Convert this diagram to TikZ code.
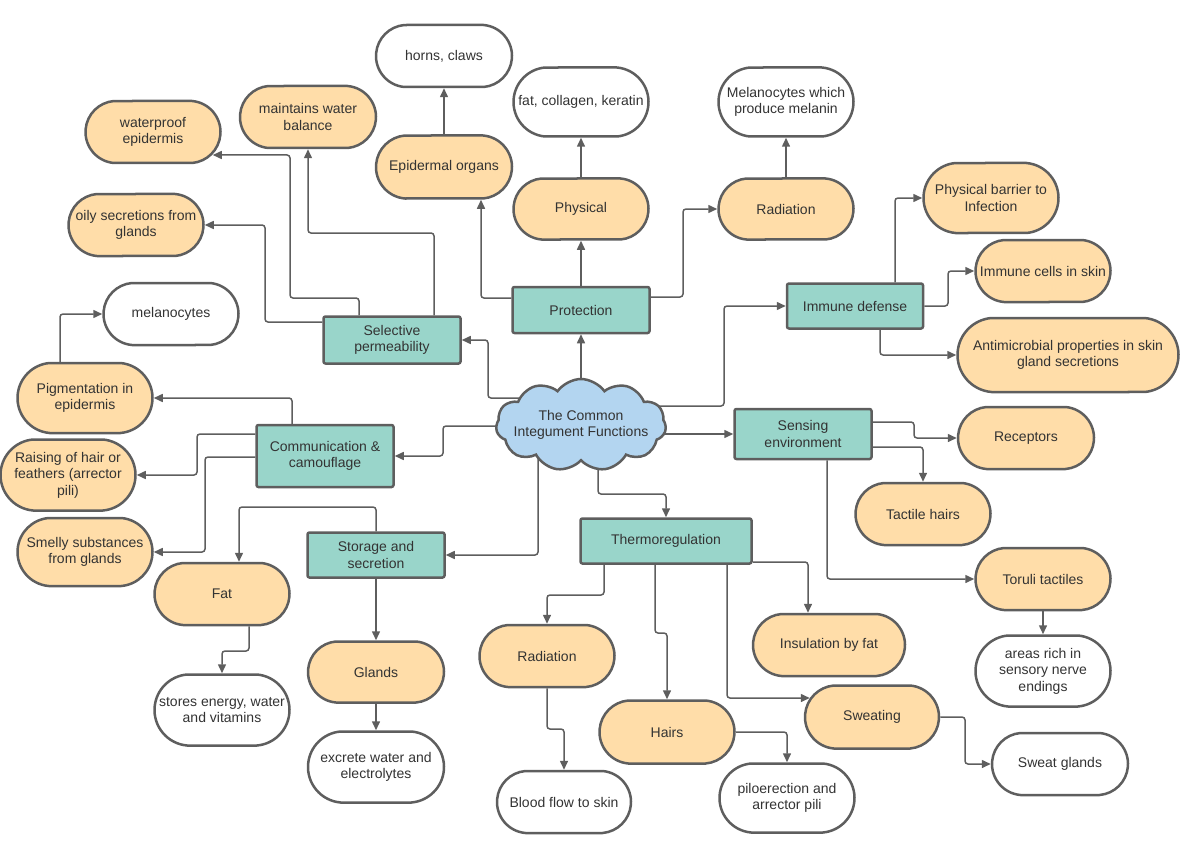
\documentclass[tikz,border=0pt]{standalone}
\usepackage{fontspec}
\setmainfont{Liberation Sans}
\usetikzlibrary{arrows.meta,shapes.symbols,shapes.misc,calc,backgrounds}
\definecolor{ln}{HTML}{5E5E5E}
\definecolor{orf}{HTML}{FFDDA9}
\definecolor{tlf}{HTML}{99D5CA}
\definecolor{clf}{HTML}{B3D5F0}
\definecolor{txt}{HTML}{333333}
\begin{document}
\begin{tikzpicture}[x=1pt,y=-1pt,
  base/.style={draw=ln, line width=2.5pt, text=txt, align=center, inner sep=1pt,
    font=\fontsize{14}{16.5}\selectfont, minimum width=137pt, minimum height=62pt},
  pillO/.style={base, fill=orf, rounded rectangle, rounded rectangle arc length=170},
  pillW/.style={base, fill=white, rounded rectangle, rounded rectangle arc length=170},
  boxT/.style={base, fill=tlf, rounded corners=2pt, minimum height=46pt},
  conn/.style={draw=ln, line width=1.5pt, rounded corners=3pt, -{Triangle[length=9pt,width=8pt]}},
]
\useasboundingbox (0,0) rectangle (1200,848);

% top row
\node[pillW, minimum width=138pt] (horns) at (444,56) {horns, claws};
\node[pillW, minimum height=69pt] (fck) at (581,102) {fat, collagen, keratin};
\node[pillW, minimum height=69pt] (mel) at (786,102) {Melanocytes which\\produce melanin};
\node[pillO] (wat) at (153,132) {waterproof\\epidermis};
\node[pillO, minimum width=138pt] (mwb) at (308,117) {maintains water\\balance};
\node[pillO, minimum width=138pt, minimum height=63pt] (epi) at (444,167) {Epidermal organs};
\node[pillO, minimum height=61pt] (phys) at (581,209) {Physical};
\node[pillO, minimum height=61pt] (radT) at (786,209) {Radiation};
\node[pillO, minimum height=70pt] (pbi) at (991,198) {Physical barrier to\\Infection};
\node[pillO] (oily) at (136,225) {oily secretions from\\glands};
\node[pillO] (imc) at (1043,271) {Immune cells in skin};

% middle
\node[boxT, minimum width=136pt, minimum height=45pt] (imm) at (855,306) {Immune defense};
\node[boxT] (prot) at (581,310) {Protection};
\node[boxT, minimum height=47pt] (sel) at (392,340) {Selective\\permeability};
\node[pillW] (melc) at (171,314) {melanocytes};
\node[pillO, minimum width=223pt, minimum height=74pt] (anti) at (1068,355) {Antimicrobial properties in skin\\gland secretions};
\node[pillO, minimum height=70pt] (pig) at (85,398) {Pigmentation in\\epidermis};
\node[cloud, draw=ln, fill=clf, line width=2.5pt, cloud puffs=11, cloud puff arc=110,
  minimum width=170pt, minimum height=92pt, inner sep=0pt,
  label={[text=txt, align=center, font=\fontsize{14}{16.5}\selectfont]center:The Common\\Integument Functions}] (cloud) at (581,425) {};
\node[boxT, minimum height=62pt] (comm) at (325,456) {Communication \&\\camouflage};
\node[pillO, minimum height=71pt] (rai) at (68,475) {Raising of hair or\\feathers (arrector\\pili)};
\node[boxT, minimum height=50pt] (sens) at (803,434) {Sensing\\environment};
\node[pillO, minimum width=138pt] (rec) at (1026,438) {Receptors};
\node[pillO] (tac) at (923,514) {Tactile hairs};
\node[pillO, minimum height=68pt] (sme) at (85,552) {Smelly substances\\from glands};
\node[boxT, minimum height=45pt] (sto) at (376,555) {Storage and\\secretion};
\node[boxT, minimum width=171pt, minimum height=45pt] (therm) at (666,541) {Thermoregulation};

% bottom
\node[pillO] (fat) at (222,594) {Fat};
\node[pillO] (tor) at (1043,579) {Toruli tactiles};
\node[pillO] (radB) at (547,656) {Radiation};
\node[pillO, minimum width=154pt] (ins) at (829,645) {Insulation by fat};
\node[pillO, minimum width=138pt, minimum height=61pt] (gla) at (376,672) {Glands};
\node[pillW, minimum height=71pt] (area) at (1043,671) {areas rich in\\sensory nerve\\endings};
\node[pillW, minimum height=71pt] (stor) at (222,710) {stores energy, water\\and vitamins};
\node[pillO, minimum width=136pt, minimum height=63pt] (swe) at (872,717) {Sweating};
\node[pillO, minimum height=63pt] (hair) at (667,732) {Hairs};
\node[pillW, minimum width=138pt, minimum height=71pt] (exc) at (376,767) {excrete water and\\electrolytes};
\node[pillW, minimum width=138pt] (swg) at (1060,764) {Sweat glands};
\node[pillW, minimum width=136pt] (blo) at (564,802) {Blood flow to skin};
\node[pillW, minimum height=69pt] (pilo) at (787,798) {piloerection and\\arrector pili};

\begin{pgfonlayer}{background}
% from the cloud
\draw[conn] (prot.south |- cloud.center) -- (prot.south);
\draw[conn] ($(cloud.center)+(-60,-27)$) -- (488,398) |- (sel.east);
\draw[conn] ($(cloud.center)+(-60,1)$) -- (443,426) |- (comm.east);
\draw[conn] ($(cloud.center)+(-43,20)$) |- (sto.east);
\draw[conn] ($(cloud.center)+(17,20)$) -- (598,494) -| (therm.north);
\draw[conn] (cloud.center |- sens.west) -- (sens.west);
\draw[conn] ($(cloud.center)+(60,-19)$) -- (724,406) |- (imm.west);
% protection
\draw[conn] (prot.north) -- (phys.south);
\draw[conn] ($(prot.west)+(0,-12)$) -| ($(epi.south)+(37,0)$);
\draw[conn] ($(prot.east)+(0,-13)$) -- (683,297) |- (radT.west);
\draw[conn] (phys.north) -- (fck.south);
\draw[conn] (epi.north) -- (horns.south);
\draw[conn] (radT.north) -- (mel.south);
% selective permeability
\draw[conn] ($(sel.north)+(42,0)$) -- (434,233) -| (mwb.south);
\draw[conn] ($(sel.north)+(-33,0)$) -- (359,298) -- (290,298) -- (290,155) -- ($(wat.east)+(-9,23)$);
\draw[conn] ($(sel.west)+(0,-18)$) -- (265,322) |- (oily.east);
% communication
\draw[conn] ($(comm.north)+(-33,0)$) |- (pig.east);
\draw[conn] ($(comm.west)+(0,-22)$) -- (197,434) |- (rai.east);
\draw[conn] ($(comm.west)+(0,1)$) -- (205,457) |- (sme.east);
\draw[conn] ($(pig.north)+(-25,0)$) |- (melc.west);
% storage
\draw[conn] (sto.north) -- (376,507) -| ($(fat.north)+(17,0)$);
\draw[conn] (sto.south) -- (gla.north);
\draw[conn] ($(fat.south)+(27,0)$) -- (249,651) -| (stor.north);
\draw[conn] (gla.south) -- (exc.north);
% thermoregulation
\draw[conn] ($(therm.south)+(-62,0)$) -- (604,595) -| (radB.north);
\draw[conn] ($(therm.south)+(-11,0)$) -- (655,633) -| (hair.north);
\draw[conn] ($(therm.south)+(61,0)$) -- (727,698) -- ($(swe.west)+(6,-19)$);
\draw[conn] ($(therm.east)+(0,21)$) -| ($(ins.north)+(-21,0)$);
\draw[conn] (radB.south) -- (547,729) -| (blo.north);
\draw[conn] (hair.east) -| (pilo.north);
\draw[conn] (swe.east) -- (965,717) |- (swg.west);
% sensing
\draw[conn] ($(sens.east)+(0,-12)$) -- (914,422) |- (rec.west);
\draw[conn] ($(sens.east)+(0,13)$) -| (tac.north);
\draw[conn] ($(sens.south)+(24,0)$) |- (tor.west);
\draw[conn] (tor.south) -- (area.north);
% immune
\draw[conn] ($(imm.north)+(40,0)$) |- (pbi.west);
\draw[conn] (imm.east) -- (948,306) |- (imc.west);
\draw[conn] ($(imm.south)+(25,0)$) |- (anti.west);
\end{pgfonlayer}
\end{tikzpicture}
\end{document}
